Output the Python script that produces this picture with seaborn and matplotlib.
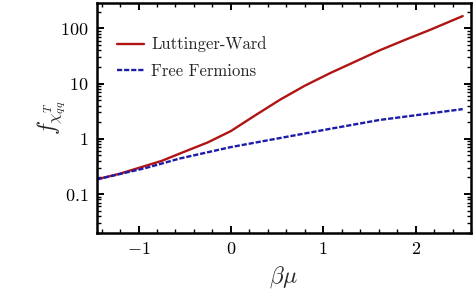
import numpy as np
import pandas as pd
import matplotlib
matplotlib.use("Agg")
import matplotlib.pyplot as plt
import seaborn as sns
from matplotlib.ticker import MultipleLocator, LogLocator, NullFormatter

# Data
lw_x = [-1.45, -1.2, -0.925, -0.75, -0.548, -0.25, 0.0, 0.25, 0.53, 0.8, 1.07, 1.35, 1.61, 1.9, 2.155, 2.51]
lw_y = [0.185, 0.234, 0.324, 0.398, 0.545, 0.86, 1.38, 2.57, 5.07, 9.12, 15.3, 25.1, 39.8, 63.1, 93.3, 166.0]
ff_x = [-1.45, -0.925, -0.548, 0.0, 0.53, 1.07, 1.61, 2.155, 2.51]
ff_y = [0.1845, 0.295, 0.442, 0.708, 1.03, 1.51, 2.19, 2.88, 3.44]

series_names = ["Luttinger-Ward", "Free Fermions"]
xticks = [-1, 0, 1, 2]
xtick_labels = [r"$-1$", r"$0$", r"$1$", r"$2$"]
yticks = [0.1, 1, 10, 100]
ytick_labels = [r"$0.1$", r"$1$", r"$10$", r"$100$"]

df = pd.concat([
    pd.DataFrame({"x": lw_x, "y": lw_y, "series": series_names[0]}),
    pd.DataFrame({"x": ff_x, "y": ff_y, "series": series_names[1]}),
], ignore_index=True)

sns.set_theme(style="ticks")
plt.rcParams["mathtext.fontset"] = "cm"
plt.rcParams["font.family"] = ["cmr10", "DejaVu Serif"]
plt.rcParams["axes.unicode_minus"] = False

fig = plt.figure(figsize=(4.74, 2.96), dpi=100)
ax = fig.add_axes([0.2046, 0.2139, 0.7891, 0.777])

palette = {series_names[0]: "#b01414", series_names[1]: "#1c1ca8"}
sns.lineplot(data=df, x="x", y="y", hue="series", style="series",
             palette=palette, dashes={series_names[0]: "", series_names[1]: (2.2, 0.8)},
             linewidth=1.7, ax=ax, sort=True, estimator=None)

ax.set_yscale("log")
ax.set_xlim(-1.45, 2.6)
ax.set_ylim(0.02, 290)

ax.set_xticks(xticks)
ax.set_xticklabels(xtick_labels)
ax.set_yticks(yticks)
ax.set_yticklabels(ytick_labels)
ax.xaxis.set_minor_locator(MultipleLocator(0.2))
ax.yaxis.set_minor_locator(LogLocator(base=10, subs=np.arange(2, 10)))
ax.yaxis.set_minor_formatter(NullFormatter())

ax.tick_params(which="both", direction="in", top=True, right=True, color="black",
               labelsize=13, labelcolor="black")
ax.tick_params(which="major", length=5, width=1.4, pad=6)
ax.tick_params(which="minor", length=3, width=1.0)
for s in ax.spines.values():
    s.set_linewidth(1.8)
    s.set_color("black")

ax.set_xlabel(r"$\beta\mu$", fontsize=17, labelpad=5)
ax.set_ylabel(r"$f_{\chi^T_{qq}}$", fontsize=17, labelpad=-5)

leg = ax.legend(loc="upper left", frameon=False, fontsize=12, handlelength=1.6,
                labelspacing=0.65, borderaxespad=0.6, handletextpad=0.45,
                bbox_to_anchor=(0.009, 0.925))
for t in leg.get_texts():
    t.set_family(["cmr10", "DejaVu Serif"])

fig.savefig("out.png", dpi=100, facecolor="white")
